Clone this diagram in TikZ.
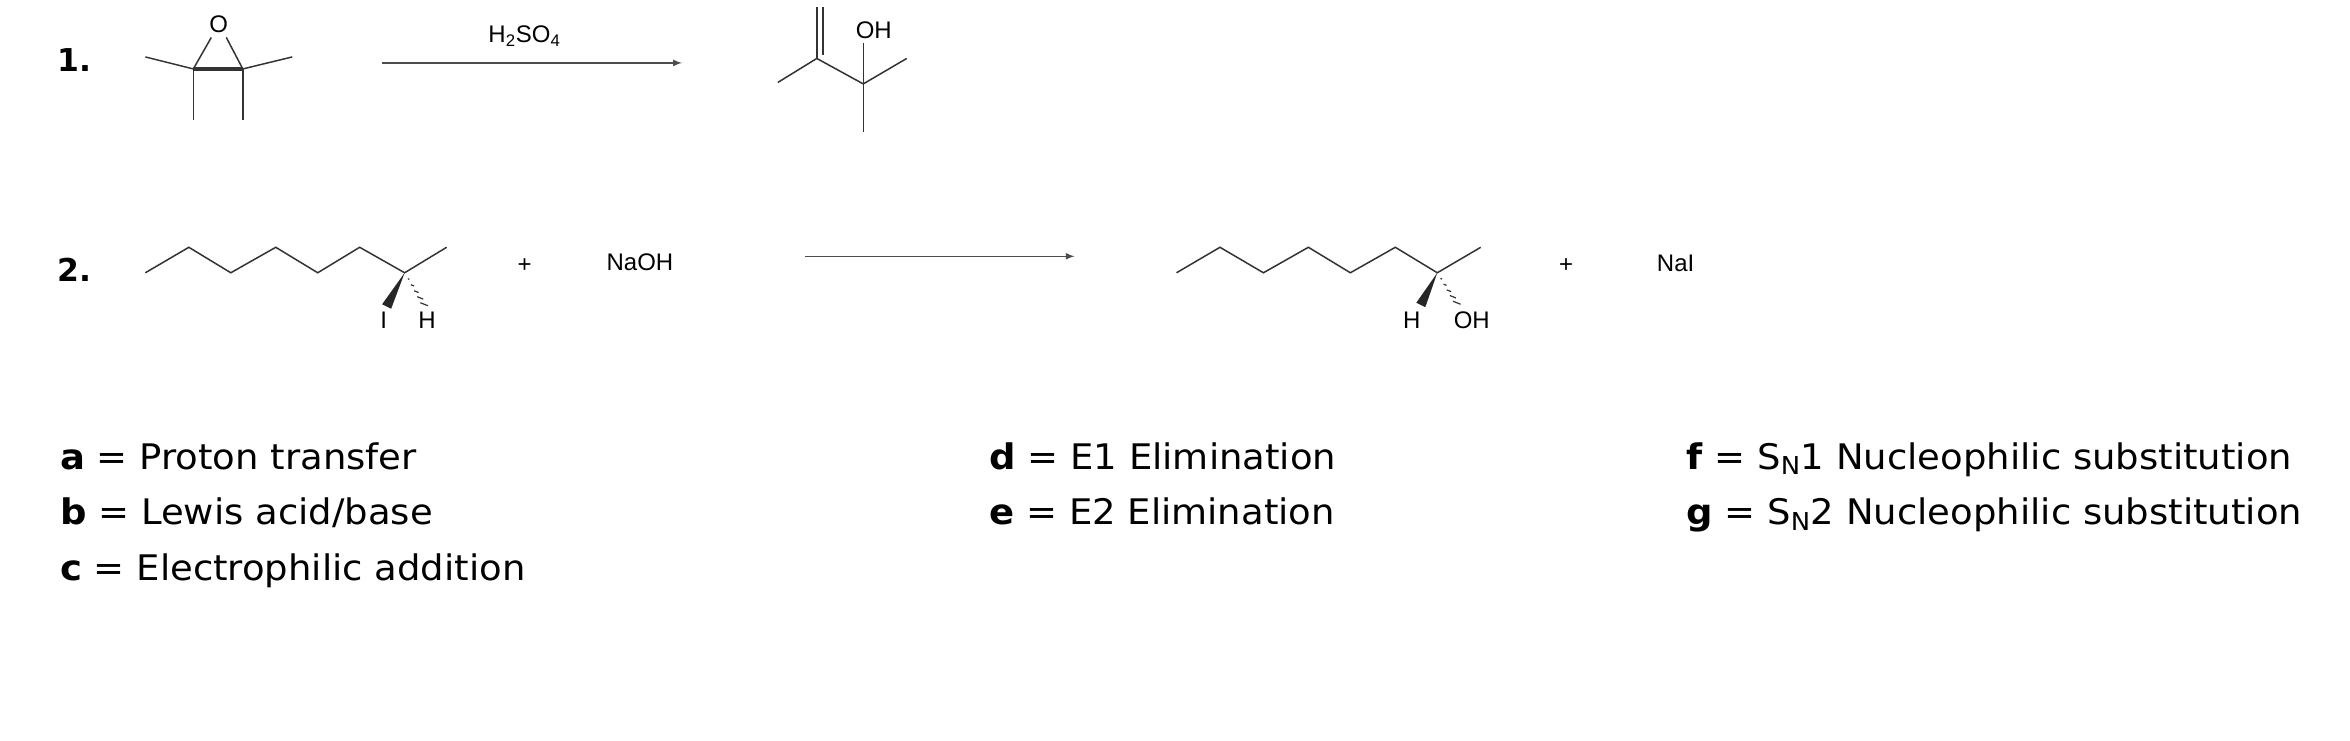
\documentclass[tikz,border=0pt]{standalone}
\usepackage{fontspec}
\usetikzlibrary{calc}
\setmainfont{DejaVu Sans}
\newfontfamily\legf[FakeStretch=1.05]{DejaVu Sans}
\newfontfamily\chemf{Liberation Sans}
\begin{document}
\begin{tikzpicture}[x=1pt,y=-1pt,
  bond/.style={line width=1pt,black!80},
  chem/.style={font=\chemf\fontsize{16}{18}\selectfont,inner sep=1pt},
  num/.style={font=\bfseries\fontsize{21}{24}\selectfont,anchor=west},
  leg/.style={font=\legf\fontsize{23.5}{26}\selectfont,anchor=base west,inner sep=0pt},
  rxn/.style={line width=1pt,black!70,-latex}]
\useasboundingbox (0,0) rectangle (1568,494);
% row 1
\node[num] (n1) at (35,40) {1.};
\node[chem] (ox) at (146,16) {O};
\coordinate (cl) at (129,46); \coordinate (cr) at (162,46);
\draw[bond] (141,25) -- (cl); \draw[bond] (151,25) -- (cr);
\draw[line width=2.5pt,black!80] (cl) -- (cr);
\draw[bond] (cl) -- (97,38); \draw[bond] (cr) -- (195,38);
\draw[bond] (cl) -- (129,80); \draw[bond] (cr) -- (162,80);
\coordinate (a1s) at (255,42); \coordinate (a1e) at (455,42);
\draw[rxn] (a1s) -- (a1e);
\node[chem] (h2so4) at (350,24) {H\textsubscript{2}SO\textsubscript{4}};
\coordinate (p1) at (545,39); \coordinate (p2) at (576,56);
\draw[bond] (519,55) -- (p1) -- (p2);
\draw[bond] (p1) -- (545,5); \draw[bond] (549,37) -- (549,5);
\node[chem] (oh1) at (583,20) {OH};
\draw[bond] (p2) -- (576,29);
\draw[bond] (p2) -- (605,39);
\draw[bond] (p2) -- (576,88);
% row 2
\node[num] (n2) at (35,180) {2.};
\draw[bond] (97,182) -- (126,165) -- (154,182) -- (184,165) -- (212,182) -- (240,165) -- (270,182) -- (298,165);
\fill[black!85] (270,182) -- (255,203) -- (261,206) -- cycle;
\foreach \t in {0.2,0.4,0.6,0.8,1.0}{
  \draw[line width=0.8pt,black!80] ($(270,182)!\t!(283,203)+(-2.5*\t,-1*\t)$) -- ($(270,182)!\t!(283,203)+(2.5*\t,1*\t)$);}
\node[chem] (iod) at (256,214) {I};
\node[chem] (hh) at (285,214) {H};
\node[chem] (plus1) at (350,177) {+};
\node[chem] (naoh) at (427,175) {NaOH};
\coordinate (a2s) at (537,171); \coordinate (a2e) at (717,171);
\draw[rxn] (a2s) -- (a2e);
\draw[bond] (785,182) -- (814,165) -- (843,182) -- (873,165) -- (901,182) -- (931,165) -- (959,182) -- (988,165);
\fill[black!85] (959,182) -- (945,202) -- (951,205) -- cycle;
\foreach \t in {0.2,0.4,0.6,0.8,1.0}{
  \draw[line width=0.8pt,black!80] ($(959,182)!\t!(972,202)+(-2.5*\t,-1*\t)$) -- ($(959,182)!\t!(972,202)+(2.5*\t,1*\t)$);}
\node[chem] (hh2) at (942,214) {H};
\node[chem] (oh2) at (982,214) {OH};
\node[chem] (plus2) at (1045,177) {+};
\node[chem] (nai) at (1118,176) {NaI};
% legend
\node[leg] (la) at (40,313) {\textbf{a} = Proton transfer};
\node[leg] (lb) at (40,350) {\textbf{b} = Lewis acid/base};
\node[leg] (lc) at (40,387) {\textbf{c} = Electrophilic addition};
\node[leg] (ld) at (660,313) {\textbf{d} = E1 Elimination};
\node[leg] (le) at (660,350) {\textbf{e} = E2 Elimination};
\node[leg] (lf) at (1125,313) {\textbf{f} = S\textsubscript{N}1 Nucleophilic substitution};
\node[leg] (lg) at (1125,350) {\textbf{g} = S\textsubscript{N}2 Nucleophilic substitution};
\end{tikzpicture}
\end{document}
